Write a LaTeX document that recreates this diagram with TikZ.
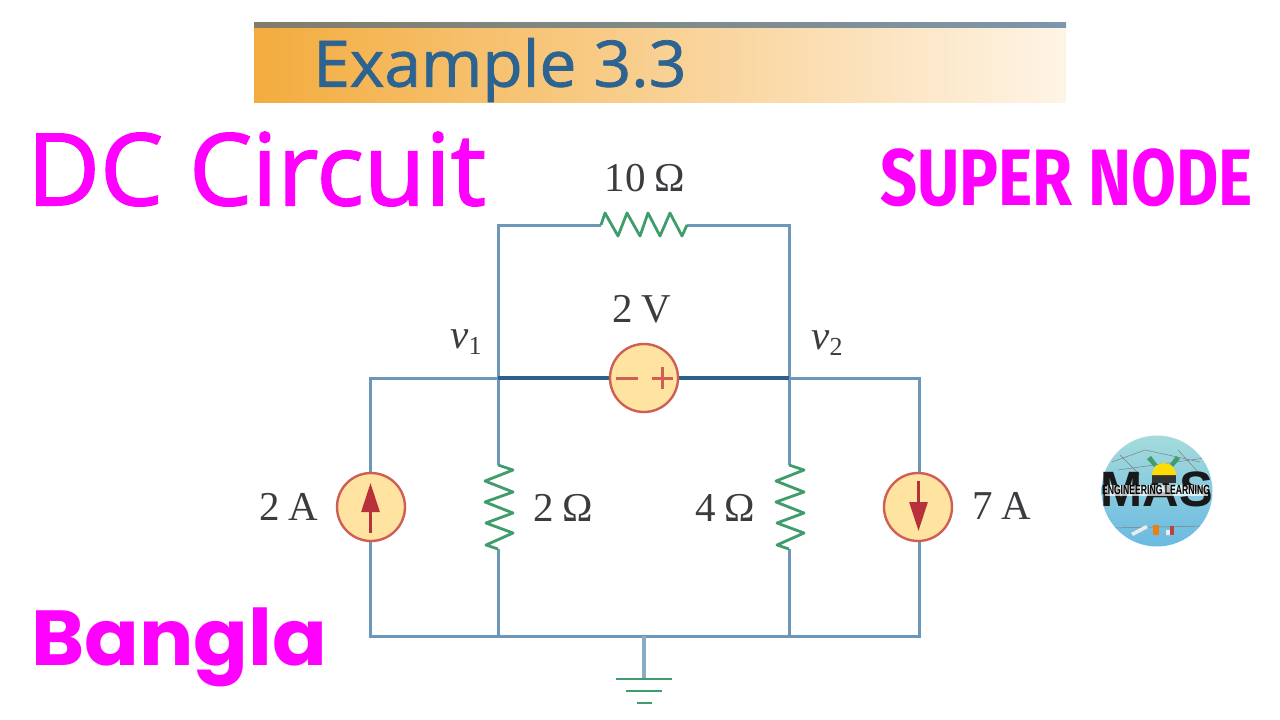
\documentclass[tikz,border=0pt]{standalone}
\usepackage{fontspec}
\setmainfont{Liberation Serif}
\newfontfamily\lab[RawFeature={embolden=1.6}]{Open Sans}
\newfontfamily\titf[RawFeature={embolden=1.2}]{Open Sans}
\newfontfamily\pop{Poppins}
\newfontfamily\fira{Fira Sans}
\newfontfamily\heros{Liberation Sans}
\usetikzlibrary{arrows.meta}
\definecolor{wire}{HTML}{6C97B8}
\definecolor{dwire}{HTML}{2B5F8E}
\definecolor{rgreen}{HTML}{3F9C6B}
\definecolor{srcfill}{HTML}{FFE3A0}
\definecolor{srcline}{HTML}{CF5F55}
\definecolor{arrowred}{HTML}{B8303A}
\definecolor{ink}{HTML}{3C3C40}
\definecolor{mag}{HTML}{FF00FF}
\definecolor{tit}{HTML}{2D6390}
\tikzset{
 wireline/.style={draw=wire,line width=3pt},
 rline/.style={draw=rgreen,line width=2.8pt,line join=round},
 srcnode/.style={circle,draw=srcline,fill=srcfill,line width=2.4pt,minimum size=68pt,inner sep=0pt},
 lbl/.style={text=ink,font=\fontsize{41}{41}\selectfont,inner sep=0pt,anchor=center},
 mtext/.style={text=mag,inner sep=0pt,anchor=west},
 srcarrow/.style={draw=arrowred,line width=2.8pt,-{Triangle[length=29pt,width=18pt]}},
}
\begin{document}
\begin{tikzpicture}[x=1pt,y=-1pt]
\useasboundingbox (0,0) rectangle (1280,720);
\fill[white] (0,0) rectangle (1280,720);
% banner
\fill[left color={rgb,255:red,243;green,172;blue,62},right color={rgb,255:red,254;green,244;blue,230}] (254,26) rectangle (1066,102);
\fill[left color={rgb,255:red,130;green,125;blue,105},right color={rgb,255:red,125;green,150;blue,170}] (254,22.5) rectangle (1066,27);
\node[text=tit,inner sep=0pt,anchor=west,font=\titf\fontsize{64}{64}\selectfont] (title) at (313,70) {\scalebox{1.03}[1]{Example 3.3}};
% magenta
\node[mtext,font=\lab\fontsize{100}{100}\selectfont] (dc) at (27,169) {\scalebox{1.0}[1]{DC Circuit}};
\node[mtext,font=\fira\bfseries\fontsize{80}{80}\selectfont] (sn) at (880,178) {\scalebox{0.812}[1]{SUPER NODE}};
\node[mtext,font=\pop\bfseries\fontsize{78}{78}\selectfont] (bn) at (31,647) {\scalebox{1.035}[1]{Bangla}};
% junctions
\coordinate (tl) at (498,225); \coordinate (tr) at (789,225);
\coordinate (ml0) at (370,378); \coordinate (ml) at (498,378);
\coordinate (mr) at (789,378); \coordinate (mr0) at (919,378);
\coordinate (bl0) at (370,636); \coordinate (bl) at (498,636);
\coordinate (bm) at (644,636);
\coordinate (br) at (789,636); \coordinate (br0) at (919,636);
\coordinate (r1a) at (601,225); \coordinate (r1b) at (687,225);
\coordinate (r2a) at (498,465); \coordinate (r2b) at (498,549);
\coordinate (r4a) at (789,465); \coordinate (r4b) at (789,549);
\coordinate (g0) at (644,678);
% wires
\draw[wireline] (r1a) -- (tl) -- (r2a);
\draw[wireline] (r1b) -- (tr) -- (r4a);
\draw[wireline] (r2b) -- (bl);
\draw[wireline] (r4b) -- (br);
\draw[wireline,line join=miter] (ml) -- (ml0) -- (bl0) -- (br0) -- (mr0) -- (mr);
\draw[wireline,line width=4pt,draw=wire!80] (bm) -- (g0);
\draw[draw=dwire,line width=3.4pt] (ml) -- (mr);
% sources
\node[srcnode] (s2a) at (371,507) {};
\node[srcnode] (s7a) at (918,507) {};
\node[srcnode] (s2v) at (644,378) {};
\draw[srcarrow] (370.5,533) -- (370.5,483);
\draw[srcarrow] (918.5,481) -- (918.5,531);
\draw[draw=srcline,line width=3pt] (616,378) -- (638,378) (652,378) -- (673,378) (662.5,367) -- (662.5,389);
% resistors
\draw[rline] (r1a) -- (605,213) -- (618,236) -- (627,213) -- (640,236) -- (648,213) -- (660,236) -- (670,213) -- (682,236) -- (r1b);
\draw[rline] (r2a) -- (513,470) -- (485,481) -- (513,492) -- (485,502) -- (513,513) -- (486,523) -- (513,533) -- (486,545) -- (r2b);
\draw[rline] (r4a) -- (804,470) -- (776,481) -- (804,492) -- (776,502) -- (804,513) -- (777,523) -- (804,533) -- (777,545) -- (r4b);
% ground
\draw[rline] (616,679) -- (672,679) (626,691) -- (662,691) (637,703) -- (652,703);
% labels
\node[lbl] (l10) at (645,178) {10\hspace{9pt}Ω};
\node[lbl] (l2v) at (642,309) {2\hspace{8pt}V};
\node[lbl] (lv1) at (466,342) {\itshape v\raisebox{-6pt}{\fontsize{26}{26}\selectfont\upshape 1}};
\node[lbl] (lv2) at (827,343) {\itshape v\raisebox{-6pt}{\fontsize{26}{26}\selectfont\upshape 2}};
\node[lbl] (l2a) at (289,507) {2\hspace{8pt}A};
\node[lbl] (l2o) at (563,508) {2\hspace{8pt}Ω};
\node[lbl] (l4o) at (725,508) {4\hspace{8pt}Ω};
\node[lbl] (l7a) at (1002,506) {7\hspace{8pt}A};
% logo
\begin{scope}
\clip (1157,491) circle (55.5);
\shade[top color={rgb,255:red,165;green,220;blue,220},middle color={rgb,255:red,218;green,234;blue,208},bottom color={rgb,255:red,105;green,185;blue,225}] (1100,434) rectangle (1214,548);
\draw[gray,line width=0.5pt] (1112,462) -- (1145,450) -- (1200,462) (1120,455) -- (1140,475) (1178,450) -- (1198,472) (1110,528) -- (1205,526) (1118,470) -- (1205,458);
\fill[orange!70!brown] (1153,525) rectangle (1159,535);
\fill[white!85!gray] (1131,533) -- (1146,525) -- (1148,528) -- (1133,536) -- cycle (1166,530) rectangle (1172,535);
\fill[red!50!gray] (1170,526) rectangle (1174,535);
\end{scope}
\node[inner sep=0pt,text=black!90,font=\heros\bfseries\fontsize{46}{46}\selectfont] (mas) at (1157,489) {\scalebox{1.1}[1.08]{MAS}};
\fill[rgreen] (1147,459) -- (1151,456) -- (1157,464) -- (1154,467) -- cycle (1180,459) -- (1176,456) -- (1170,464) -- (1173,467) -- cycle;
\fill[black!80] (1152,474) rectangle (1176,483);
\fill[yellow!80!orange] (1152,475) arc (-180:0:12) -- cycle;
\fill[white,opacity=.7] (1105,485) rectangle (1208,496);
\node[inner sep=0pt,text=black,font=\heros\bfseries\fontsize{12}{12}\selectfont] (eng) at (1156,490) {\scalebox{0.72}[1.1]{ENGINEERING LEARNING}};
\end{tikzpicture}
\end{document}
